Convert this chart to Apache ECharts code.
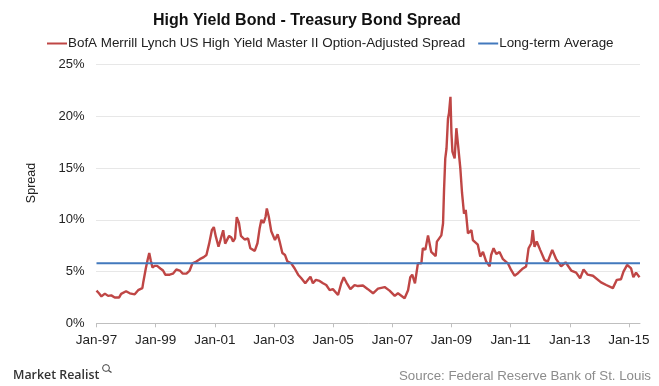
<!DOCTYPE html>
<html><head><meta charset="utf-8">
<style>html,body{margin:0;padding:0;background:#fff}#c{width:659px;height:386px}</style>
<script src="https://cdn.jsdelivr.net/npm/echarts@6/dist/echarts.min.js"></script>
</head><body><div id="c"></div>
<script>
// months since Jan-97
const months = [0,1,2,3.4,4.7,6,7.4,9.2,10,12,13.5,15.5,16.9,18.6,19,20,20.7,21.4,22,22.7,23.6,24.6,25.9,27,27.9,29.7,31,32.4,33.8,35,36.5,37.8,38.9,40.5,41.9,43.5,44.6,45.7,46.8,47.6,48.4,49.5,50.3,51.4,52.2,53,53.8,54.7,55.4,56.2,56.9,57.8,58.6,60.1,61.5,62.4,64.2,65.3,66.2,66.9,67.8,68.6,69.1,69.9,70.9,71.6,72.4,73.5,74.3,75.4,76.5,77.4,79,80.4,81.8,83.1,84.7,85.8,86.8,87.8,89,90.5,91.9,93.2,94.6,95.9,98,99.3,100.3,101.4,103,104.7,106.1,108.1,110.1,112.2,114.2,116.9,118.9,121,122.3,125,126.4,127.3,128.1,129.2,130.4,131.8,132.4,133.4,134.5,135.8,137.6,138.1,139.9,140.6,141,141.5,142,142.6,143,143.6,144,144.4,145.3,146,146.7,147.6,148.3,149.1,149.8,150.7,152.1,152.7,154.7,155.7,156.8,158.1,159.5,160.1,161.1,162.2,163.5,164.9,166.9,168.2,169.6,171,173,174.3,175.3,176.4,177,177.7,178.6,180,181.8,183.1,184.9,186.5,188.5,190.3,192.6,194.6,196.2,197.6,199.3,201.4,204.7,206.8,209.5,211.1,212.8,213.8,215.3,216.9,217.8,218.9,220.3];
const spread = [3.16,2.9,2.6,2.87,2.65,2.7,2.5,2.5,2.84,3.1,2.9,2.8,3.2,3.4,4.0,5.3,6.1,6.8,6.1,5.4,5.55,5.55,5.3,5.1,4.7,4.7,4.8,5.2,5.1,4.8,4.8,5.1,5.8,5.97,6.2,6.4,6.6,7.7,9.0,9.3,8.4,7.4,8.06,9.0,7.7,7.7,8.45,8.3,7.9,8.2,10.26,9.7,8.45,8.1,8.2,7.26,7.0,7.74,9.2,10.0,9.7,10.3,11.1,10.3,8.9,9.03,8.06,8.6,7.9,6.8,6.6,6.0,5.8,5.3,4.7,4.35,3.87,4.2,4.5,3.87,4.2,4.1,3.87,3.7,3.2,3.3,2.74,3.87,4.45,3.94,3.3,3.7,3.6,3.65,3.3,2.9,3.35,3.5,3.16,2.65,2.9,2.42,3.2,4.45,4.7,3.87,5.8,5.8,7.26,7.1,8.5,6.9,6.5,7.9,8.5,9.67,12.9,15.95,16.9,19.8,20.3,21.9,18.4,16.6,15.95,18.86,17.2,15,12.6,10.6,10.96,8.7,9.0,8.05,7.6,6.45,6.9,5.97,5.5,6.6,7.26,6.7,6.9,6.2,5.8,5.16,4.6,4.84,5.3,5.5,7.26,7.74,9.0,7.4,7.9,7.1,6.1,5.97,7.1,6.2,5.5,5.9,5.1,4.9,4.35,5.2,4.7,4.6,3.95,3.7,3.4,4.2,4.26,5,5.65,5.3,4.45,4.9,4.45];
const average = 5.8;
const lastMonth = 220.5;
const tickMonths = [0,24,48,72,96,120,144,168,192,216];
const tickLabels = ['Jan-97','Jan-99','Jan-01','Jan-03','Jan-05','Jan-07','Jan-09','Jan-11','Jan-13','Jan-15'];
const seriesNames = ['BofA Merrill Lynch US High Yield Master II Option-Adjusted Spread','Long-term Average'];

const font = '"Liberation Sans", Arial, sans-serif';
const chart = echarts.init(document.getElementById('c'), null, {renderer:'canvas'});
chart.setOption({
  animation:false,
  backgroundColor:'#fff',
  textStyle:{fontFamily:font},
  title:{text:'High Yield Bond - Treasury Bond Spread',left:148,top:8,
    textStyle:{fontFamily:font,fontSize:16,fontWeight:'bold',color:'#111'}},
  legend:{left:42,top:32,itemWidth:20,itemHeight:2,itemGap:13,icon:'rect',
    data:seriesNames,
    textStyle:{fontFamily:font,fontSize:13.4,color:'#222',padding:[0,0,0,-4]}},
  grid:{left:96.5,right:19,top:64.7,bottom:62.7},
  xAxis:{type:'value',min:0,max:lastMonth,splitLine:{show:false},
    axisLine:{show:true,onZero:false,lineStyle:{color:'#bfbfbf',width:1}},
    axisTick:{show:true,length:4,lineStyle:{color:'#bfbfbf'},customValues:tickMonths},
    axisLabel:{customValues:tickMonths,margin:10,fontSize:13.5,color:'#222',fontFamily:font,
      formatter:v=>tickLabels[tickMonths.indexOf(v)]||''}},
  yAxis:{type:'value',min:0,max:25,interval:5,name:'Spread',nameLocation:'middle',nameGap:58,
    nameTextStyle:{fontSize:12.5,color:'#222',fontFamily:font,padding:[0,0,0,22]},
    axisLine:{show:false},axisTick:{show:false},
    splitLine:{lineStyle:{type:'dotted',color:'#cfcfcf',width:1}},
    axisLabel:{margin:12,fontSize:13,color:'#222',fontFamily:font,formatter:v=>v+'%'}},
  graphic:[
    {type:'text',left:13,top:369,style:{text:'Market Realist',font:'600 12.4px "Open Sans", sans-serif',fill:'#333'}},
    {type:'circle',shape:{cx:106,cy:368,r:3.4},style:{stroke:'#444',fill:'none',lineWidth:1}},
    {type:'line',shape:{x1:108.5,y1:370.5,x2:111.5,y2:372.5},style:{stroke:'#444',lineWidth:1.3}},
    {type:'text',right:8,top:370,style:{text:'Source: Federal Reserve Bank of St. Louis',font:'13.3px "Liberation Sans", Arial, sans-serif',fill:'#8c8c8c'}}
  ],
  series:[
    {name:seriesNames[0],type:'line',symbol:'none',z:2,
      lineStyle:{color:'#bf4645',width:2.4},itemStyle:{color:'#bf4645'},
      data:months.map((m,i)=>[m,spread[i]])},
    {name:seriesNames[1],type:'line',symbol:'none',z:3,
      lineStyle:{color:'#4279bd',width:2},itemStyle:{color:'#4279bd'},
      data:[[0,average],[lastMonth,average]]}
  ]
});
</script></body></html>
